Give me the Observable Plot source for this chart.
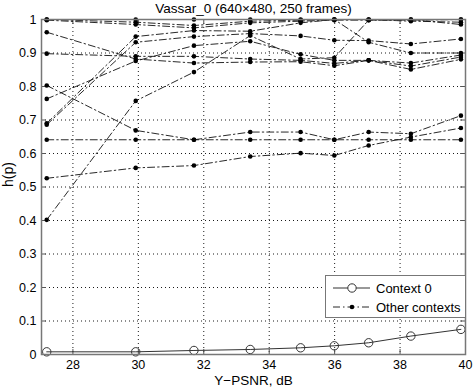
<!DOCTYPE html>
<html><head><meta charset="utf-8">
<script src="https://cdn.jsdelivr.net/npm/d3@7"></script>
<script src="https://cdn.jsdelivr.net/npm/@observablehq/plot@0.6"></script>
<style>
body{margin:0;background:#fff;}
#wrap{position:relative;width:474px;height:387px;font-family:"Liberation Sans",Arial,sans-serif;}
#legend{position:absolute;left:325px;top:275px;width:139px;height:41px;border:1px solid #777;background:#fff;font-size:12px;}
</style></head><body><div id="wrap"></div>
<script>
const title = "Vassar_0 (640\u00d7480, 250 frames)";
const xLabel = "Y\u2212PSNR, dB";
const yLabel = "h(p)";
const xTicks = [28, 30, 32, 34, 36, 38, 40];
const yTicks = [0, 0.1, 0.2, 0.3, 0.4, 0.5, 0.6, 0.7, 0.8, 0.9, 1];
const legendLabels = ["Context 0", "Other contexts"];

const psnr = [27.2, 29.92, 31.7, 33.42, 34.96, 35.99, 37.04, 38.33, 39.86];
const context0 = [0.008, 0.008, 0.012, 0.015, 0.02, 0.026, 0.035, 0.055, 0.075];
const otherContexts = [
  [1.0, 1.0, 1.0, 1.0, 1.0, 1.0, 1.0, 1.0, 1.0],
  [1.0, 0.992, 0.982, 0.995, 0.998, 1.0, 1.0, 0.995, 0.992],
  [0.998, 0.985, 0.975, 0.99, 0.995, 0.998, 0.998, 1.0, 0.985],
  [0.962, 0.882, 0.87, 0.873, 0.874, 0.862, 0.878, 0.851, 0.881],
  [0.898, 0.89, 0.89, 0.882, 0.878, 0.869, 0.878, 0.861, 0.888],
  [0.763, 0.876, 0.922, 0.935, 0.896, 0.878, 0.878, 0.87, 0.894],
  [0.690, 0.949, 0.967, 0.965, 0.99, 1.0, 0.932, 0.9, 0.9],
  [0.686, 0.932, 0.949, 0.958, 0.951, 0.938, 0.937, 0.927, 0.942],
  [0.402, 0.757, 0.843, 0.952, 0.882, 0.886, 0.998, 0.998, 1.0],
  [0.803, 0.669, 0.641, 0.664, 0.664, 0.641, 0.664, 0.659, 0.713],
  [0.641, 0.641, 0.641, 0.641, 0.641, 0.641, 0.641, 0.641, 0.641],
  [0.526, 0.557, 0.564, 0.591, 0.601, 0.594, 0.624, 0.649, 0.676]
];

const xDomain = [27.04, 40];
const others = otherContexts.flatMap((s, i) => s.map((v, j) => ({series: i, x: psnr[j], y: v})));
const ctx0 = context0.map((v, j) => ({x: psnr[j], y: v}));
const dashDot = "7,3,1.5,3";
const font = "Liberation Sans, Arial, sans-serif";

const chart = Plot.plot({
  width: 474, height: 387,
  marginLeft: 41, marginRight: 9, marginTop: 19, marginBottom: 33,
  style: {fontFamily: font, fontSize: "12.5px", background: "white", color: "#000", overflow: "visible"},
  x: {domain: xDomain, ticks: xTicks, tickSize: 0, tickPadding: 6, label: null, tickFormat: d => String(d)},
  y: {domain: [0, 1], ticks: yTicks, tickSize: 0, tickPadding: 5, label: null, tickFormat: d => String(+d.toFixed(1))},
  marks: [
    Plot.ruleX(xTicks, {x: d => d, stroke: "#000", strokeWidth: 0.9, strokeDasharray: "1,3"}),
    Plot.ruleY(yTicks, {y: d => d, stroke: "#000", strokeWidth: 0.9, strokeDasharray: "1,3"}),
    Plot.ruleX(xTicks, {x: d => d, y1: 0, y2: 0.015, stroke: "#555"}),
    Plot.ruleX(xTicks, {x: d => d, y1: 0.985, y2: 1, stroke: "#555"}),
    Plot.ruleY(yTicks, {y: d => d, x1: xDomain[0], x2: xDomain[0] + 0.15, stroke: "#555"}),
    Plot.ruleY(yTicks, {y: d => d, x1: xDomain[1] - 0.15, x2: xDomain[1], stroke: "#555"}),
    Plot.line(others, {x: "x", y: "y", z: "series", stroke: "#111", strokeWidth: 0.9, strokeDasharray: dashDot}),
    Plot.dot(others, {x: "x", y: "y", r: 2.3, fill: "#000", stroke: "none"}),
    Plot.line(ctx0, {x: "x", y: "y", stroke: "#333", strokeWidth: 1}),
    Plot.dot(ctx0, {x: "x", y: "y", r: 4.2, fill: "none", stroke: "#333", strokeWidth: 1}),
    Plot.frame({stroke: "#777", strokeWidth: 1.5}),
    Plot.text([title], {frameAnchor: "top", lineAnchor: "middle", dy: -11, fontSize: 13.5, fill: "#000"}),
    Plot.text([xLabel], {frameAnchor: "bottom", lineAnchor: "middle", dy: 26, fontSize: 13.5, fill: "#000"}),
    Plot.text([yLabel], {frameAnchor: "left", lineAnchor: "middle", dx: -33, rotate: -90, fontSize: 14, fill: "#000"})
  ]
});
const wrap = document.getElementById("wrap");
wrap.appendChild(chart);

const leg = document.createElement("div");
leg.id = "legend";
leg.innerHTML = `<svg width="139" height="41" style="position:absolute;left:0;top:0;font-family:${font}">
  <line x1="7" x2="44" y1="12" y2="12" stroke="#333" stroke-width="1"/>
  <circle cx="26" cy="12" r="4.2" fill="white" stroke="#333"/>
  <text x="50" y="12" dy="0.35em" font-size="13">${legendLabels[0]}</text>
  <line x1="7" x2="44" y1="31" y2="31" stroke="#111" stroke-width="0.9" stroke-dasharray="${dashDot}"/>
  <circle cx="26" cy="31" r="2.3" fill="#000"/>
  <text x="50" y="31" dy="0.35em" font-size="13">${legendLabels[1]}</text>
</svg>`;
wrap.appendChild(leg);
</script></body></html>
